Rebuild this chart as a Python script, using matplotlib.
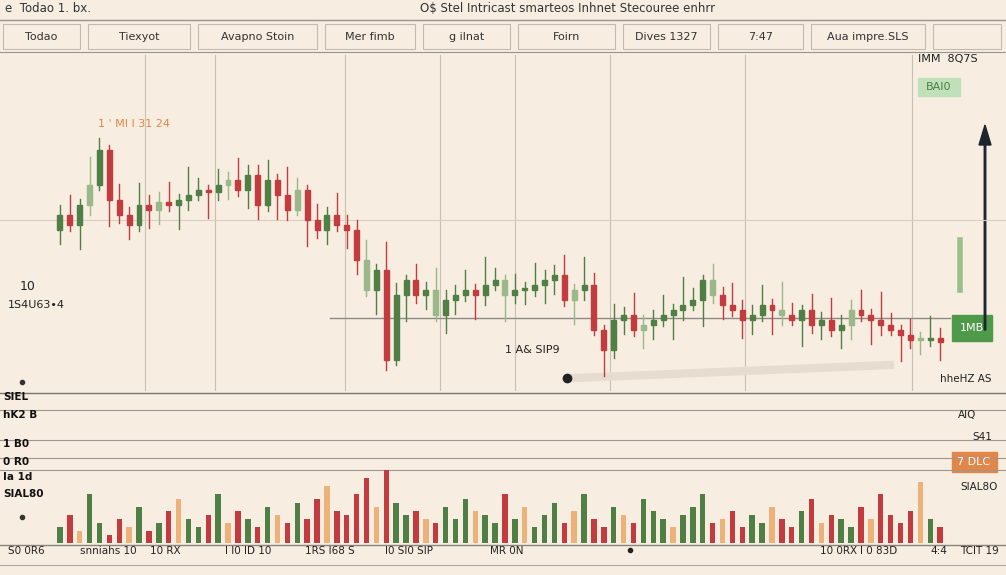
import matplotlib.pyplot as plt
from matplotlib.patches import Rectangle, FancyArrow

W, H = 1006, 575
BG = "#f7ede1"
GREEN = "#4f7f45"
RED = "#c23b3f"
ORANGE = "#e2874a"

# candle closes (price units), opens follow the previous close
closes = [175, 165, 185, 205, 240, 190, 175, 165, 185, 180,
          188, 185, 190, 195, 200, 198, 205, 210, 200, 215,
          185, 210, 195, 180, 200, 170, 160, 175, 165, 160,
          130, 100, 120, 30, 95, 110, 95, 100, 75, 90,
          95, 100, 95, 105, 110, 95, 100, 100, 105, 110,
          115, 90, 100, 105, 60, 40, 70, 75, 60, 65,
          70, 75, 80, 85, 90, 110, 95, 85, 80, 70,
          75, 85, 80, 75, 70, 80, 65, 70, 60, 65,
          80, 75, 70, 65, 60, 55, 50, 50, 52, 48]
first_open = 160
wick_up = [10, 20, 6, 28, 12, 5, 16, 8, 22, 10]
wick_dn = [14, 6, 24, 10, 5, 26, 8, 14, 6, 18]

volumes = [20, 35, 15, 60, 25, 10, 30, 20, 45, 15,
           25, 40, 55, 30, 20, 35, 60, 25, 40, 30,
           20, 45, 35, 25, 50, 30, 55, 70, 40, 35,
           60, 80, 45, 90, 50, 35, 40, 30, 25, 45,
           30, 55, 40, 35, 25, 60, 30, 45, 20, 35,
           50, 25, 40, 60, 30, 20, 45, 35, 25, 55,
           40, 30, 20, 35, 45, 60, 25, 30, 40, 20,
           35, 25, 45, 30, 20, 40, 55, 25, 35, 30,
           20, 45, 30, 60, 35, 25, 40, 75, 30, 20]

toolbar = ["Todao", "Tiexyot", "Avapno Stoin", "Mer fimb", "g ilnat",
           "Foirn", "Dives 1327", "7:47", "Aua impre.SLS", ""]
bottom_labels = [(8, "S0 0R6"), (80, "snniahs 10"), (150, "10 RX"),
                 (225, "I I0 ID 10"), (305, "1RS I68 S"), (385, "I0 SI0 SIP"),
                 (490, "MR 0N"), (820, "10 0RX"), (860, "I 0 83D"), (930, "4:4"),
                 (960, "TCIT 19")]

fig = plt.figure(figsize=(W / 100, H / 100), dpi=100, facecolor=BG)


def fax(x0, y0, x1, y1):
    return fig.add_axes([x0 / W, 1 - y1 / H, (x1 - x0) / W, (y1 - y0) / H])


# overlay in pixel coordinates for decorations
deco = fax(0, 0, W, H)
deco.set_xlim(0, W)
deco.set_ylim(H, 0)
deco.axis("off")
deco.set_facecolor(BG)

deco.text(420, 9, "O$ Stel Intricast smarteos Inhnet Stecouree enhrr",
          fontsize=8.5, color="#333", va="center")
deco.text(5, 9, "e  Todao 1. bx.", fontsize=8.5, color="#333", va="center")
deco.axhline(20, color="#9a948c", lw=1)
deco.axhline(52, color="#9a948c", lw=0.8)
xs = [0, 85, 195, 322, 420, 515, 620, 715, 808, 930, 1006]
for i, lab in enumerate(toolbar):
    x0, x1 = xs[i] + 3, xs[i + 1] - 5
    deco.add_patch(Rectangle((x0, 24), x1 - x0, 25, fill=False, ec="#c4bab0", lw=0.8))
    deco.text((x0 + x1) / 2, 37, lab, fontsize=8, ha="center", va="center", color="#333")

for x in [145, 215, 345, 440, 515, 610, 745, 912]:
    deco.plot([x, x], [55, 390], color="#c9c0b4", lw=0.8)
deco.axhline(220, color="#d8cfc3", lw=0.8)
deco.plot([330, 950], [318, 318], color="#8f8a84", lw=1)
deco.axhline(393, color="#7a746d", lw=1)
for y in [410, 440, 458, 470]:
    deco.axhline(y, color="#9d968e", lw=0.8)
deco.axhline(545, color="#8a847d", lw=1)
deco.axhline(565, color="#b0a89f", lw=0.8)

deco.text(20, 290, "10", fontsize=9, color="#222")
deco.text(8, 308, "1S4U63•4", fontsize=8, color="#222")
deco.text(505, 353, "1 A& SIP9", fontsize=8, color="#222")
deco.text(940, 382, "hheHZ AS", fontsize=7.5, color="#222")
deco.text(98, 127, "1 ' MI I 31 24", fontsize=8, color=ORANGE)
deco.text(918, 62, "IMM  8Q7S", fontsize=8, color="#222")
deco.add_patch(Rectangle((918, 78), 42, 18, color="#bfe0b8"))
deco.text(939, 87, "BAI0", fontsize=8, ha="center", va="center", color=GREEN)
deco.add_patch(Rectangle((952, 315), 40, 26, color="#4f9a4a"))
deco.text(972, 328, "1MB", fontsize=8, ha="center", va="center", color="white")
deco.add_patch(Rectangle((952, 452), 45, 20, color=ORANGE))
deco.text(974, 462, "7 DLC", fontsize=8, ha="center", va="center", color="white")
deco.text(960, 490, "SIAL8O", fontsize=7.5, color="#222")
deco.text(958, 418, "AIQ", fontsize=7.5, color="#222")
deco.text(972, 440, "S41", fontsize=7.5, color="#222")
deco.add_patch(FancyArrow(985, 330, 0, -185, width=1.5, head_width=12,
                          head_length=20, color="#1c2430"))
deco.plot([960, 960], [240, 290], color="#9bc08a", lw=4)
deco.plot([575, 890], [378, 365], color="#e6dccf", lw=6)
deco.plot(567, 378, "o", color="#222", ms=6)
deco.plot(22, 382, "o", color="#333", ms=3)
for y, lab in [(400, "SIEL"), (418, "hK2 B"), (447, "1 B0"), (465, "0 R0"),
               (480, "Ia 1d"), (497, "SIAL80")]:
    deco.text(3, y, lab, fontsize=7.5, color="#111", fontweight="bold")
deco.plot(22, 517, "o", color="#333", ms=3)
for x, lab in bottom_labels:
    deco.text(x, 551, lab, fontsize=7.5, color="#222", va="center")
deco.plot(630, 550, "o", color="#222", ms=3)

# price candles
ax = fax(50, 45, 950, 390)
ax.set_xlim(-1, len(closes))
ax.set_ylim(0, 345)
ax.axis("off")
opens = [first_open] + closes[:-1]
for i, (o, c) in enumerate(zip(opens, closes)):
    col = GREEN if c >= o else RED
    if i % 7 == 3:
        col = "#9bb88a"
    hi = max(o, c) + wick_up[i % 10]
    lo = min(o, c) - wick_dn[i % 10]
    ax.plot([i, i], [lo, hi], color=col, lw=1)
    ax.add_patch(Rectangle((i - 0.25, min(o, c)), 0.5, max(abs(c - o), 2), color=col))

# volume bars
vax = fax(50, 450, 950, 543)
vax.set_xlim(-1, len(volumes))
vax.set_ylim(0, 115)
vax.axis("off")
vcols = []
for i, (o, c) in enumerate(zip(opens, closes)):
    if i % 5 == 2:
        vcols.append("#edb27a")
    else:
        vcols.append(GREEN if c >= o else RED)
vax.bar(range(len(volumes)), volumes, width=0.55, color=vcols)

fig.savefig("out.png", dpi=100, facecolor=BG)
